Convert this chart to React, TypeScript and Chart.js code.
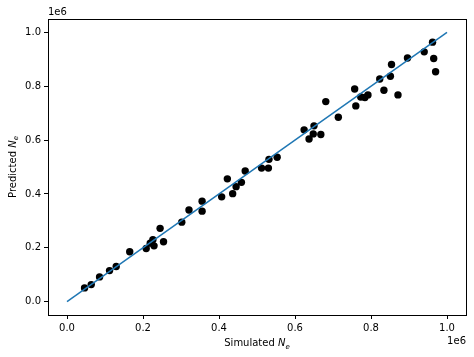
import React, { useEffect, useRef } from "react";
import { Chart, registerables } from "chart.js";

Chart.register(...registerables);

// Simulated effective population size (x) and predicted (y), raw values
const simulatedNe = [
  46200, 63800, 85700, 112000, 129500, 165000, 208400, 219000, 226000, 229000,
  245000, 254000, 302000, 321000, 355500, 355500, 407000, 422000, 436000, 445000,
  459000, 469000, 512000, 530000, 531500, 553000, 624000, 637000, 650000, 648000,
  668000, 681000, 714000, 757000, 760000, 773000, 784000, 792000, 823000, 834000,
  851000, 854000, 871000, 896000, 940000, 962000, 965000, 970000,
];
const predictedNe = [
  50700, 63000, 91500, 115000, 130000, 185000, 197000, 217000, 230000, 207000,
  272000, 222000, 295000, 340000, 373000, 336000, 389000, 456000, 401000, 427000,
  443000, 485000, 496000, 496000, 528500, 536000, 638000, 604000, 653000, 623000,
  621000, 743000, 685000, 790000, 727000, 760000, 758000, 768000, 827000, 785000,
  837000, 881000, 768000, 905000, 928000, 964000, 903000, 854000,
];
// identity reference line
const identityLine = [0, 1000000];
const axisMin = -50000;
const axisMax = 1050000;
const tickValues = [0, 200000, 400000, 600000, 800000, 1000000];
const tickLabels = ["0.0", "0.2", "0.4", "0.6", "0.8", "1.0"];
const offsetText = "1e6";
const xTitleParts = ["Simulated ", "N", "e"];
const yTitleParts = ["Predicted ", "N", "e"];

const FONT = "'DejaVu Sans', sans-serif";

function drawMixedTitle(ctx: CanvasRenderingContext2D, parts: string[], cx: number, cy: number) {
  const normal = `10px ${FONT}`;
  const ital = `italic 10px ${FONT}`;
  const sub = `italic 7px ${FONT}`;
  ctx.font = normal;
  const w0 = ctx.measureText(parts[0]).width;
  ctx.font = ital;
  const w1 = ctx.measureText(parts[1]).width;
  ctx.font = sub;
  const w2 = ctx.measureText(parts[2]).width;
  const total = w0 + w1 + w2;
  let x = cx - total / 2;
  ctx.textBaseline = "alphabetic";
  ctx.textAlign = "left";
  const base = cy + 3.5;
  ctx.font = normal;
  ctx.fillText(parts[0], x, base);
  x += w0;
  ctx.font = ital;
  ctx.fillText(parts[1], x, base);
  x += w1;
  ctx.font = sub;
  ctx.fillText(parts[2], x, base + 2.5);
}

const decorPlugin = {
  id: "decor",
  afterDraw(chart: any) {
    const { ctx, chartArea } = chart;
    const { left, right, top, bottom } = chartArea;
    ctx.save();
    ctx.strokeStyle = "#000";
    ctx.lineWidth = 1;
    ctx.strokeRect(Math.round(left) + 0.5, Math.round(top) + 0.5, Math.round(right - left), Math.round(bottom - top));
    ctx.fillStyle = "#000";
    // offset texts
    ctx.font = `10px ${FONT}`;
    ctx.textBaseline = "middle";
    ctx.textAlign = "left";
    ctx.fillText(offsetText, left, 12);
    ctx.textAlign = "right";
    ctx.fillText(offsetText, right, 341.5);
    // axis titles
    drawMixedTitle(ctx, xTitleParts, (left + right) / 2, 342.5);
    ctx.save();
    ctx.translate(12, (top + bottom) / 2);
    ctx.rotate(-Math.PI / 2);
    drawMixedTitle(ctx, yTitleParts, 0, 0);
    ctx.restore();
    ctx.restore();
  },
};

export default function App() {
  const ref = useRef<HTMLCanvasElement | null>(null);
  useEffect(() => {
    if (!ref.current) return;
    const setTicks = (scale: any) => {
      scale.ticks = tickValues.map((v) => ({ value: v }));
    };
    const tickCb = (value: any) => {
      const i = tickValues.indexOf(Number(value));
      return i >= 0 ? tickLabels[i] : "";
    };
    const axisCommon = {
      type: "linear" as const,
      min: axisMin,
      max: axisMax,
      afterBuildTicks: setTicks,
      grid: {
        drawOnChartArea: false,
        tickLength: 4,
        tickColor: "#000",
        tickWidth: 1,
      },
      border: { display: false },
      ticks: {
        color: "#000",
        font: { family: FONT, size: 10 },
        padding: 3,
        callback: tickCb,
        maxRotation: 0,
        autoSkip: false,
      },
    };
    const chart = new Chart(ref.current, {
      type: "scatter",
      data: {
        datasets: [
          {
            type: "line",
            data: identityLine.map((v) => ({ x: v, y: v })),
            borderColor: "#1f77b4",
            borderWidth: 1.5,
            pointRadius: 0,
            fill: false,
            order: 0,
          } as any,
          {
            type: "scatter",
            data: simulatedNe.map((x, i) => ({ x, y: predictedNe[i] })),
            backgroundColor: "#000",
            borderColor: "#000",
            borderWidth: 0,
            pointRadius: 3.7,
            order: 1,
          },
        ],
      },
      options: {
        responsive: false,
        animation: false,
        layout: { padding: { top: 19, right: 8, left: 0, bottom: 0 } },
        plugins: { legend: { display: false }, tooltip: { enabled: false } },
        scales: {
          x: {
            ...axisCommon,
            afterFit: (s: any) => {
              s.height = 42;
            },
          },
          y: {
            ...axisCommon,
            afterFit: (s: any) => {
              s.width = 48;
            },
          },
        },
      } as any,
      plugins: [decorPlugin],
    });
    return () => chart.destroy();
  }, []);
  return (
    <div style={{ position: "fixed", left: 0, top: 0, width: 474, height: 357, background: "#fff" }}>
      <canvas ref={ref} width={474} height={357} style={{ display: "block" }} />
    </div>
  );
}
